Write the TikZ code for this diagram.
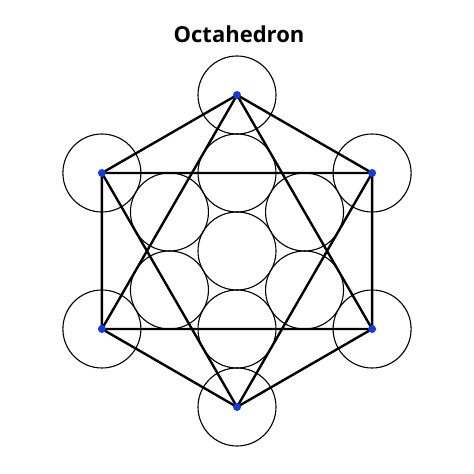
\documentclass[tikz,border=0pt]{standalone}
\usepackage{fontspec}
\setmainfont{Open Sans}
\usepackage{tikz}
\usetikzlibrary{shapes,arrows}
\definecolor{dotblue}{RGB}{20,60,220}
\tikzstyle{ring} = [circle, draw, line width=1.1pt, inner sep=0pt,
    minimum size=78pt]
\tikzstyle{vertex} = [circle, fill=dotblue, inner sep=0pt,
    minimum size=8pt]
\tikzstyle{title} = [font=\bfseries\fontsize{22}{25}\selectfont]
\tikzstyle{line} = [draw, line width=2.4pt, line join=round]

\begin{document}
\begin{tikzpicture}[x=1pt,y=1pt]
    \useasboundingbox (0,0) rectangle (474,474);
    % Place nodes
    \node [title] (title) at (239,440) {Octahedron};
    \coordinate (c) at (237,223);
    \node [ring] (mid) at (c) {};
    \node [ring] (in1) at ([shift={(90:78)}]c) {};
    \node [ring] (in2) at ([shift={(30:78)}]c) {};
    \node [ring] (in3) at ([shift={(-30:78)}]c) {};
    \node [ring] (in4) at ([shift={(-90:78)}]c) {};
    \node [ring] (in5) at ([shift={(-150:78)}]c) {};
    \node [ring] (in6) at ([shift={(150:78)}]c) {};
    \coordinate (p1) at ([shift={(90:156)}]c);
    \coordinate (p2) at ([shift={(30:156)}]c);
    \coordinate (p3) at ([shift={(-30:156)}]c);
    \coordinate (p4) at ([shift={(-90:156)}]c);
    \coordinate (p5) at ([shift={(-150:156)}]c);
    \coordinate (p6) at ([shift={(150:156)}]c);
    \node [ring] (out1) at (p1) {};
    \node [ring] (out2) at (p2) {};
    \node [ring] (out3) at (p3) {};
    \node [ring] (out4) at (p4) {};
    \node [ring] (out5) at (p5) {};
    \node [ring] (out6) at (p6) {};

    % Draw edges
    \path [line] (p1) -- (p2) -- (p3) -- (p4) -- (p5) -- (p6) -- cycle;
    \path [line] (p1) -- (p3) -- (p5) -- cycle;
    \path [line] (p2) -- (p4) -- (p6) -- cycle;

    % Corner dots
    \node [vertex] (v1) at (p1) {};
    \node [vertex] (v2) at (p2) {};
    \node [vertex] (v3) at (p3) {};
    \node [vertex] (v4) at (p4) {};
    \node [vertex] (v5) at (p5) {};
    \node [vertex] (v6) at (p6) {};
\end{tikzpicture}
\end{document}
